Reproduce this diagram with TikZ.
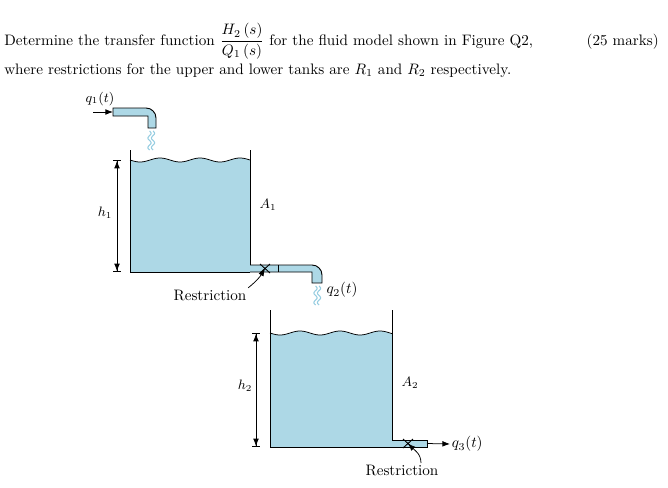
\documentclass[tikz,border=0pt]{standalone}
\usepackage{amsmath}
\usetikzlibrary{arrows.meta}
\definecolor{water}{RGB}{173,216,230}
\definecolor{drip}{RGB}{150,205,225}
\begin{document}
\begin{tikzpicture}[x=0.66pt,y=-0.66pt,
  wall/.style={line width=0.6pt},
  dim/.style={line width=0.5pt,{Bar[width=5pt]Latex[length=5pt]}-{Latex[length=5pt]Bar[width=5pt]}},
  lbl/.style={inner sep=1pt,font=\small},
  arr/.style={-{Latex[length=5pt]},line width=0.5pt}]
\useasboundingbox (0,0) rectangle (668,488);
% header
\node[anchor=base west,inner sep=0] (t1) at (4,45) {Determine the transfer function $\dfrac{H_2\,(s)}{Q_1\,(s)}$ for the fluid model shown in Figure Q2,};
\node[anchor=base east,inner sep=0] (mk) at (659,45) {(25 marks)};
\node[anchor=base west,inner sep=0] (t2) at (4,74) {where restrictions for the upper and lower tanks are $R_1$ and $R_2$ respectively.};
% ---------- upper tank
\fill[water] plot[domain=130:250,samples=80] (\x,{160+2*sin((\x-130)*9)}) -- (250,272) -- (130,272) -- cycle;
\draw[line width=0.5pt] plot[domain=130:250,samples=80] (\x,{160+2*sin((\x-130)*9)});
% outlet pipe 1
\fill[water] (250,265) -- (312,265) arc[start angle=-90,end angle=0,radius=10] -- (322,283) -- (312,283) -- (312,272) -- (250,272) -- cycle;
\draw[wall] (250,265) -- (312,265) arc[start angle=-90,end angle=0,radius=10] -- (322,283) -- (312,283) -- (312,272) -- (250,272);
\draw[wall] (130,150) -- (130,272) -- (250,272);
\draw[wall] (250,150) -- (250,265);
\draw[wall] (278,265) -- (278,272);
\coordinate (x1) at (265,268.5);
\draw[line width=0.6pt] (260,264)--(270,273) (260,273)--(270,264);
% inlet pipe
\fill[water] (113,108) -- (146,108) arc[start angle=-90,end angle=0,radius=10] -- (156,128) -- (148,128) -- (148,116) -- (113,116) -- cycle;
\draw[wall] (113,108) -- (146,108) arc[start angle=-90,end angle=0,radius=10] -- (156,128) -- (148,128) -- (148,116) -- (113,116) -- cycle;
\coordinate (in1) at (113,112);
\node[lbl] (q1) at (100,99) {$q_1(t)$};
\coordinate (in0) at (93,112);
\draw[arr] (in0) -- (in1);
% drip 1
\foreach \dx in {0,3.5}{\draw[drip,line width=0.7pt] plot[domain=131:150,samples=30] ({149.5+\dx+1.6*sin((\x-131)*38)},\x);}
% dims
\coordinate (a1) at (117,160); \coordinate (b1) at (117,272);
\draw[dim] (a1) -- (b1);
\node[lbl] (h1) at (105,213) {$h_1$};
\node[lbl] (A1) at (268,205) {$A_1$};
\node[lbl,font=\normalsize] (r1) at (210,295) {Restriction};
\draw[arr] (r1.north east) to[bend right=10] (x1);
\node[lbl,font=\normalsize] (q2) at (342,290) {$q_2(t)$};
\foreach \dx in {0,3.5}{\draw[drip,line width=0.7pt] plot[domain=286:305,samples=30] ({315.5+\dx+1.6*sin((\x-286)*38)},\x);}
% ---------- lower tank
\fill[water] plot[domain=270:392,samples=80] (\x,{333+2*sin((\x-270)*9)}) -- (392,447) -- (270,447) -- cycle;
\draw[line width=0.5pt] plot[domain=270:392,samples=80] (\x,{333+2*sin((\x-270)*9)});
\fill[water] (392,440) rectangle (427,447);
\draw[wall] (270,310) -- (270,447) -- (427,447) -- (427,440) -- (392,440) -- (392,310);
\coordinate (x2) at (408,443.5);
\draw[line width=0.6pt] (403,439)--(413,448) (403,448)--(413,439);
\coordinate (o2) at (427,443.5);
\node[lbl,font=\normalsize,anchor=west] (q3) at (450,444) {$q_3(t)$};
\draw[arr] (o2) -- (q3.west);
\coordinate (a2) at (256,333); \coordinate (b2) at (256,447);
\draw[dim] (a2) -- (b2);
\node[lbl] (h2) at (245,386) {$h_2$};
\node[lbl] (A2) at (410,383) {$A_2$};
\node[lbl,font=\normalsize] (r2) at (402,470) {Restriction};
\coordinate (r2s) at (421,463);
\draw[arr] (r2s) to[out=90,in=-45] (x2);
\end{tikzpicture}
\end{document}
